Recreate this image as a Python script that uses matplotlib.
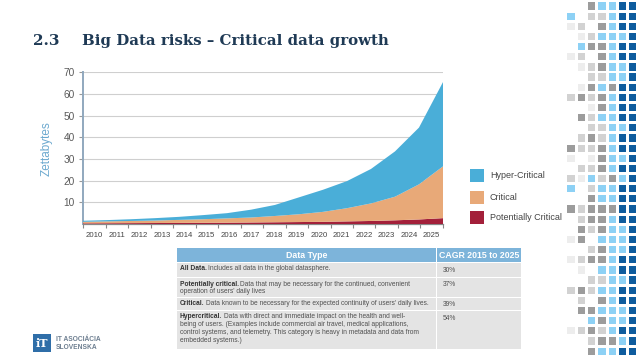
import numpy as np
import matplotlib
matplotlib.use("Agg")
import matplotlib.pyplot as plt
from matplotlib.patches import Rectangle

# ---------------- data ----------------
years = [str(y) for y in range(2010, 2026)]
potentially_critical = [0.3, 0.35, 0.4, 0.45, 0.5, 0.55, 0.6, 0.7, 0.8, 0.9, 1.0, 1.2, 1.4, 1.7, 2.1, 2.7]
critical = [0.7, 0.85, 1.0, 1.15, 1.4, 1.65, 2.0, 2.3, 2.9, 3.6, 4.6, 6.1, 8.1, 10.9, 16.2, 23.9]
hyper_critical = [0.5, 0.6, 0.8, 1.1, 1.4, 1.9, 2.4, 3.6, 5.1, 7.8, 10.2, 12.5, 15.9, 20.9, 26.2, 38.9]
series_names = ["Hyper-Critical", "Critical", "Potentially Critical"]
y_ticks = [10, 20, 30, 40, 50, 60, 70]

table_header = ["Data Type", "CAGR 2015 to 2025"]
row_bold = ["All Data.", "Potentially critical.", "Critical.", "Hypercritical."]
row_text = [
    ["Includes all data in the global datasphere."],
    ["Data that may be necessary for the continued, convenient",
     "operation of users' daily lives"],
    ["Data known to be necessary for the expected continuity of users' daily lives."],
    ["Data with direct and immediate impact on the health and well-",
     "being of users. (Examples include commercial air travel, medical applications,",
     "control systems, and telemetry. This category is heavy in metadata and data from",
     "embedded systems.)"],
]
row_cagr = ["30%", "37%", "39%", "54%"]

# decorative square pattern (right side of slide)
square_pattern = [
    "..gbbDD", "b.llbDD", "wl.gbDD", ".wlbbbD", ".bggbDD", "wl.gbDD", ".wlgbbD",
    "..llbbD", ".wgbgDD", "lglgbDD", "..wgbDD", ".glbbDD", "..llbbD", ".lglbDD",
    "gllgbDD", "w.wgbbD", ".llgbDD", "lwblgbD", "b.lbbDD", "..gbbDD", "glgggDD",
    ".lggbDD", ".glgbbD", "wg.bbbD", "..lgbbD", "wlggbDD", ".w.bbDD", "..llbbD",
    "lglbbDD", ".l.gbDD", ".ggbbbD", "..bgbbD", "wlglbDD", "..lggbD", "..gbbDD",
]
square_colors = {"w": "#EDEDED", "l": "#D2D2D2", "g": "#9C9C9C", "b": "#8DD1F5", "D": "#0E5C9E"}

# ---------------- figure ----------------
W, H = 638, 359
fig = plt.figure(figsize=(W / 100, H / 100), dpi=100)
fig.patch.set_facecolor("white")

deco = fig.add_axes([0, 0, 1, 1])
deco.set_xlim(0, W)
deco.set_ylim(H, 0)
deco.axis("off")

# title
title_color = "#1F3A55"
deco.text(33, 45, "2.3", fontsize=11, fontweight="bold", family="DejaVu Serif",
          color=title_color, va="baseline")
deco.text(82, 45, "Big Data risks \u2013 Critical data growth", fontsize=10.8,
          fontweight="bold", family="DejaVu Serif", color=title_color, va="baseline")

# decorative squares
col_x = [571, 581.3, 591.6, 601.9, 612.2, 622.5, 632.8]
for r, row in enumerate(square_pattern):
    yc = 6 + r * 10.15
    for c, ch in enumerate(row):
        if ch in square_colors:
            deco.add_patch(Rectangle((col_x[c] - 3.6, yc - 3.6), 7.2, 7.2,
                                     facecolor=square_colors[ch], edgecolor="none"))

# ---------------- chart ----------------
left, right, top, bottom = 83, 443, 72.3, 224
ax = fig.add_axes([left / W, (H - bottom) / H, (right - left) / W, (bottom - top) / H])
n = len(years)
x = np.arange(n)
colors = ["#A3203A", "#E8A978", "#4AAED8"]
ax.stackplot(x, potentially_critical, critical, hyper_critical,
             colors=colors, linewidth=0, zorder=3)
ax.set_xlim(0, n - 1)
ax.set_ylim(0, 70)
ax.set_yticks(y_ticks)
ax.set_yticklabels([str(t) for t in y_ticks], fontsize=7.3, color="#5A5A5A", family="Liberation Sans")
ax.yaxis.grid(True, color="#CFCFCF", linewidth=0.8, zorder=0)
ax.tick_params(axis="y", length=3, color="#999999", pad=3)
bound = np.arange(n + 1) * (n - 1) / n
ax.set_xticks(bound)
ax.set_xticklabels([])
ax.set_xticks((np.arange(n) + 0.5) * (n - 1) / n, minor=True)
ax.set_xticklabels(years, minor=True, fontsize=5.6, color="#444444", family="Liberation Sans")
ax.tick_params(axis="x", which="major", length=3, color="#888888")
ax.tick_params(axis="x", which="minor", length=0, pad=6)
for s in ["top", "right"]:
    ax.spines[s].set_visible(False)
ax.spines["left"].set_color("#90A8BE")
ax.spines["left"].set_linewidth(1.4)
ax.spines["bottom"].set_color("#888888")
ax.spines["bottom"].set_linewidth(0.9)
ax.set_ylabel("Zettabytes", fontsize=8.5, color="#6CA9CF", family="Liberation Sans", labelpad=8)

# legend
leg_y = [175, 197, 217]
leg_cols = [colors[2], colors[1], colors[0]]
for yy, cc, name in zip(leg_y, leg_cols, series_names):
    deco.add_patch(Rectangle((470, yy - 6.5), 14, 13, facecolor=cc, edgecolor="none"))
    deco.text(490, yy, name, fontsize=6.5, color="#444444", va="center", family="Liberation Sans")

# ---------------- table ----------------
tx0, tx1, tx2 = 177, 435.5, 521
deco.add_patch(Rectangle((tx0, 248), tx1 - tx0, 14, facecolor="#7DB4DA", edgecolor="none"))
deco.add_patch(Rectangle((tx1 + 1.5, 248), tx2 - tx1 - 1.5, 14, facecolor="#7DB4DA", edgecolor="none"))
deco.text((tx0 + tx1) / 2, 255.5, table_header[0], fontsize=6.3, fontweight="bold",
          color="white", ha="center", va="center", family="Liberation Sans")
deco.text((tx1 + tx2) / 2 + 0.7, 255.5, table_header[1], fontsize=6.3, fontweight="bold",
          color="white", ha="center", va="center", family="Liberation Sans")

row_bounds = [(263, 277), (278, 296.5), (297.5, 310), (311, 348.5)]
renderer = fig.canvas.get_renderer()
fs = 4.8
for (ya, yb), b, lines, cg in zip(row_bounds, row_bold, row_text, row_cagr):
    deco.add_patch(Rectangle((tx0, ya), tx1 - tx0, yb - ya, facecolor="#E4E4E4", edgecolor="none"))
    deco.add_patch(Rectangle((tx1 + 1.5, ya), tx2 - tx1 - 1.5, yb - ya, facecolor="#E4E4E4", edgecolor="none"))
    y0 = ya + 6
    tb = deco.text(180, y0, b, fontsize=fs, fontweight="bold", color="#333333",
                   va="center", family="Liberation Sans")
    wb = tb.get_window_extent(renderer).width
    deco.text(180 + wb + 1.5, y0, lines[0], fontsize=fs, color="#505050",
              va="center", family="Liberation Sans")
    for k, ln in enumerate(lines[1:], start=1):
        deco.text(180, y0 + 7.7 * k, ln, fontsize=fs, color="#505050",
                  va="center", family="Liberation Sans")
    deco.text(443, y0 + 1, cg, fontsize=fs, color="#505050", va="center", family="Liberation Sans")

# ---------------- logo ----------------
deco.add_patch(Rectangle((33, 334), 18, 18, facecolor="#2F6EA8", edgecolor="none"))
deco.text(42, 343.5, "iT", fontsize=8, fontweight="bold", color="white",
          ha="center", va="center", family="DejaVu Serif")
deco.text(56, 339.5, "IT ASOCI\u00c1CIA", fontsize=4.8, fontweight="bold",
          color="#6D7E90", va="center", family="Liberation Sans")
deco.text(56, 347.5, "SLOVENSKA", fontsize=4.8, fontweight="bold",
          color="#6D7E90", va="center", family="Liberation Sans")

fig.savefig("out.png", dpi=100)
